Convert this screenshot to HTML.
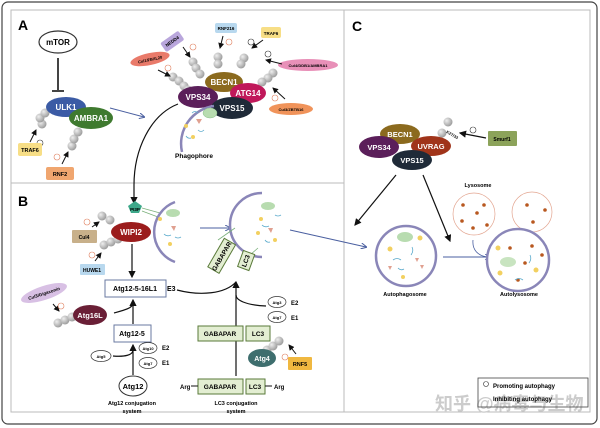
<!DOCTYPE html>
<html><head><meta charset="utf-8"><style>
html,body{margin:0;padding:0;background:#fff}
svg{display:block}
text{font-family:"Liberation Sans","Noto Sans CJK SC",sans-serif;font-weight:bold}
</style></head><body>
<svg width="600" height="428" viewBox="0 0 600 428" xmlns="http://www.w3.org/2000/svg">
<defs>
<marker id="ab" markerWidth="6" markerHeight="6" refX="5" refY="3" orient="auto"><path d="M0,0 L6,3 L0,6 z" fill="#111"/></marker>
<marker id="au" markerWidth="6" markerHeight="6" refX="5" refY="3" orient="auto"><path d="M0,0 L6,3 L0,6" fill="none" stroke="#4a5fa0" stroke-width="1"/></marker>
<radialGradient id="ball" cx="0.35" cy="0.35" r="0.7"><stop offset="0" stop-color="#eee"/><stop offset="1" stop-color="#999"/></radialGradient>
</defs>
<rect x="2" y="2" width="595" height="422" rx="6" fill="#fff" stroke="#444" stroke-width="1.2"/>
<rect x="11" y="10" width="579" height="402" fill="none" stroke="#bbb"/>
<line x1="344" y1="10" x2="344" y2="412" stroke="#bbb"/>
<line x1="11" y1="183" x2="344" y2="183" stroke="#bbb"/>
<text x="18" y="30" font-size="14">A</text>
<text x="18" y="206" font-size="14">B</text>
<text x="352" y="31" font-size="14">C</text>

<!-- Panel A -->
<ellipse cx="58" cy="42" rx="19" ry="11" fill="#fff" stroke="#333" stroke-width="1.2"/>
<text x="58" y="45" font-size="8" text-anchor="middle">mTOR</text>
<line x1="58" y1="58" x2="58" y2="91" stroke="#444" stroke-width="2"/>
<line x1="52" y1="91" x2="64" y2="91" stroke="#444" stroke-width="2"/>
<circle cx="42" cy="124" r="4.5" fill="url(#ball)"/><circle cx="40" cy="118" r="4.5" fill="url(#ball)"/><circle cx="45" cy="113" r="4.5" fill="url(#ball)"/>
<circle cx="72" cy="146" r="4.5" fill="url(#ball)"/><circle cx="74" cy="139" r="4.5" fill="url(#ball)"/><circle cx="78" cy="132" r="4.5" fill="url(#ball)"/>
<ellipse cx="66" cy="107" rx="20" ry="10" fill="#3b5ba5"/>
<text x="66" y="110" font-size="8" fill="#fff" text-anchor="middle">ULK1</text>
<ellipse cx="91" cy="118" rx="22" ry="11" fill="#3f7a2f"/>
<text x="91" y="121" font-size="8" fill="#fff" text-anchor="middle">AMBRA1</text>
<line x1="30" y1="142" x2="36" y2="130" stroke="#111" marker-end="url(#ab)"/>
<line x1="62" y1="164" x2="68" y2="152" stroke="#111" marker-end="url(#ab)"/>
<circle cx="40" cy="143" r="3" fill="none" stroke="#333" stroke-width=".6"/>
<circle cx="57" cy="157" r="3" fill="none" stroke="#e08060" stroke-width=".6"/>
<rect x="18" y="143" width="24" height="13" rx="2" fill="#f7de86"/><text x="30" y="152" font-size="5.5" text-anchor="middle">TRAF6</text>
<rect x="46" y="167" width="28" height="13" rx="2" fill="#f0a66f"/><text x="60" y="176" font-size="5.5" text-anchor="middle">RNF2</text>
<line x1="110" y1="108" x2="144" y2="117" stroke="#4a5fa0" marker-end="url(#au)"/>

<!-- complex A ubiquitins -->
<g fill="url(#ball)">
<circle cx="173" cy="77" r="4.5"/><circle cx="179" cy="81" r="4.5"/><circle cx="184" cy="86" r="4.5"/><circle cx="188" cy="90" r="4.5"/>
<circle cx="193" cy="62" r="4.5"/><circle cx="196" cy="68" r="4.5"/><circle cx="200" cy="74" r="4.5"/>
<circle cx="218" cy="57" r="4.5"/><circle cx="218" cy="64" r="4.5"/>
<circle cx="244" cy="58" r="4.5"/><circle cx="241" cy="64" r="4.5"/>
<circle cx="273" cy="73" r="4.5"/><circle cx="268" cy="78" r="4.5"/><circle cx="262" cy="82" r="4.5"/>
</g>
<ellipse cx="224" cy="82" rx="19" ry="10" fill="#8b6a1e"/><text x="224" y="85" font-size="8" fill="#fff" text-anchor="middle">BECN1</text>
<ellipse cx="248" cy="93" rx="18" ry="10" fill="#c0185a"/><text x="248" y="96" font-size="8" fill="#fff" text-anchor="middle">ATG14</text>
<ellipse cx="198" cy="97" rx="20" ry="11" fill="#5b1f5a"/><text x="198" y="100" font-size="8" fill="#fff" text-anchor="middle">VPS34</text>
<ellipse cx="232" cy="108" rx="21" ry="11" fill="#1f2a38"/><text x="232" y="111" font-size="8" fill="#fff" text-anchor="middle">VPS15</text>
<rect x="161" y="36" width="22" height="11" rx="2" fill="#b9a6dc" transform="rotate(-35 172 41)"/><text x="172" y="43" font-size="4.5" text-anchor="middle" transform="rotate(-35 172 41)">NEDD4</text>
<rect x="215" y="23" width="22" height="10" rx="2" fill="#b8d8ee"/><text x="226" y="30" font-size="4.5" text-anchor="middle">RNF216</text>
<rect x="261" y="27" width="20" height="11" rx="2" fill="#f7de86"/><text x="271" y="35" font-size="4.5" text-anchor="middle">TRAF6</text>
<ellipse cx="150" cy="59" rx="20" ry="6" fill="#e97a6a" transform="rotate(-12 150 59)"/><text x="150" y="61" font-size="4" text-anchor="middle" transform="rotate(-12 150 59)">Cul1/FBXL20</text>
<ellipse cx="308" cy="65" rx="30" ry="6" fill="#e890b8"/><text x="308" y="67" font-size="4" text-anchor="middle">Cul4/DDB1/AMBRA1</text>
<ellipse cx="291" cy="109" rx="22" ry="6" fill="#f0935a"/><text x="291" y="111" font-size="4" text-anchor="middle">Cul3/ZBTB16</text>
<g stroke="#111" marker-end="url(#ab)">
<line x1="158" y1="70" x2="170" y2="76"/><line x1="183" y1="47" x2="190" y2="57"/>
<line x1="223" y1="36" x2="220" y2="48"/><line x1="263" y1="40" x2="252" y2="48"/>
<line x1="282" y1="64" x2="266" y2="60"/><line x1="285" y1="99" x2="273" y2="88"/>
</g>
<g fill="none" stroke-width=".6"><circle cx="168" cy="68" r="3" stroke="#e08060"/><circle cx="193" cy="47" r="3" stroke="#e08060"/><circle cx="229" cy="42" r="3" stroke="#e08060"/><circle cx="251" cy="42" r="3" stroke="#333"/><circle cx="268" cy="54" r="3" stroke="#333"/><circle cx="275" cy="98" r="3" stroke="#e08060"/></g>
<path d="M214,106 A38,38 0 0 0 182,152" fill="none" stroke="#8a86b8" stroke-width="2.5"/>
<ellipse cx="210" cy="113" rx="7" ry="5" fill="#b8dcb0" stroke="#8bc08a" stroke-width=".5"/>
<circle cx="186" cy="126" r="2" fill="#f2d060"/><circle cx="193" cy="137" r="2" fill="#f2d060"/>
<path d="M196,119 l6,0 l-3,5 z" fill="#e0a090"/>
<path d="M192,113 q3,-3 6,0 M198,130 q3,3 6,0 M186,136 q2,3 5,2" stroke="#5aaacc" fill="none" stroke-width=".8"/>
<text x="194" y="158" font-size="6.5" text-anchor="middle">Phagophore</text>
<path d="M178,104 C150,115 134,150 134,185 L134,203" fill="none" stroke="#111" stroke-width="1.2" marker-end="url(#ab)"/>

<!-- Panel B -->
<path d="M128,206 l7,-5 l7,5 l-3,7 l-8,0 z" fill="#3ea88a"/><text x="135" y="211" font-size="4.5" text-anchor="middle">PI3P</text>
<path d="M142,208 L160,213 M142,211 L158,217" stroke="#7ab07a" stroke-width=".8"/>
<circle cx="102" cy="216" r="4.5" fill="url(#ball)"/><circle cx="110" cy="220" r="4.5" fill="url(#ball)"/>
<circle cx="104" cy="245" r="4.5" fill="url(#ball)"/><circle cx="111" cy="242" r="4.5" fill="url(#ball)"/><circle cx="118" cy="239" r="4.5" fill="url(#ball)"/>
<ellipse cx="131" cy="232" rx="20" ry="10" fill="#9b1c1c"/><text x="131" y="235" font-size="8" fill="#fff" text-anchor="middle">WIPI2</text>
<rect x="72" y="230" width="25" height="13" rx="1" fill="#c8b08a"/><text x="84" y="239" font-size="5" text-anchor="middle">Cul4</text>
<rect x="80" y="264" width="25" height="11" rx="1" fill="#b8d8ee"/><text x="92" y="272" font-size="5" text-anchor="middle">HUWE1</text>
<line x1="92" y1="227" x2="99" y2="222" stroke="#111" marker-end="url(#ab)"/>
<line x1="95" y1="261" x2="101" y2="253" stroke="#111" marker-end="url(#ab)"/>
<circle cx="87" cy="222" r="3" fill="none" stroke="#e08060" stroke-width=".6"/><circle cx="92" cy="255" r="3" fill="none" stroke="#e08060" stroke-width=".6"/>
<path d="M175,202 A32,32 0 0 0 175,262" fill="none" stroke="#8a86b8" stroke-width="2.5"/>
<ellipse cx="173" cy="213" rx="7" ry="4" fill="#b8dcb0"/><circle cx="160" cy="219" r="2" fill="#f2d060"/><circle cx="170" cy="244" r="2" fill="#f2d060"/><path d="M171,226 l5,0 l-2,5 z" fill="#e0a090"/>
<path d="M164,234 q3,3 7,1 M175,237 q3,2 6,0" stroke="#5aaacc" fill="none" stroke-width=".8"/>
<line x1="132" y1="244" x2="132" y2="277" stroke="#111" stroke-width="1.2" marker-end="url(#ab)"/>
<rect x="105" y="280" width="61" height="17" fill="#fff" stroke="#6a7aa0"/><text x="135" y="291" font-size="7" text-anchor="middle">Atg12-5-16L1</text>
<text x="167" y="291" font-size="7">E3</text>
<path d="M177,290 C200,296 225,294 236,282" fill="none" stroke="#111" stroke-width="1.2"/>
<ellipse cx="44" cy="293" rx="24" ry="7" fill="#d8c0e4" transform="rotate(-18 44 293)"/><text x="44" y="295" font-size="4.5" text-anchor="middle" transform="rotate(-18 44 293)">Cul3/Gigaxonin</text>
<circle cx="58" cy="323" r="4.5" fill="url(#ball)"/><circle cx="65" cy="320" r="4.5" fill="url(#ball)"/><circle cx="72" cy="317" r="4.5" fill="url(#ball)"/>
<ellipse cx="90" cy="315" rx="17" ry="10" fill="#6a1f36"/><text x="90" y="318" font-size="7.5" fill="#fff" text-anchor="middle">Atg16L</text>
<line x1="53" y1="304" x2="59" y2="311" stroke="#111" marker-end="url(#ab)"/><circle cx="61" cy="306" r="3" fill="none" stroke="#e08060" stroke-width=".6"/>
<path d="M114,313 C125,310 133,308 133,303" fill="none" stroke="#111" stroke-width="1.2"/>
<line x1="133" y1="324" x2="133" y2="300" stroke="#111" stroke-width="1.2" marker-end="url(#ab)"/>
<rect x="114" y="325" width="37" height="17" fill="#fff" stroke="#6a7aa0"/><text x="132" y="336" font-size="7" text-anchor="middle">Atg12-5</text>
<line x1="133" y1="375" x2="133" y2="345" stroke="#111" stroke-width="1.2" marker-end="url(#ab)"/>
<path d="M113,356 C125,357 133,355 133,350" fill="none" stroke="#111" stroke-width="1.2"/>
<ellipse cx="101" cy="356" rx="10" ry="5.5" fill="#fff" stroke="#333" stroke-width=".7"/><text x="101" y="358" font-size="4" text-anchor="middle">Atg5</text>
<ellipse cx="148" cy="348" rx="9" ry="5.5" fill="#fff" stroke="#333" stroke-width=".7"/><text x="148" y="350" font-size="4" text-anchor="middle">Atg10</text>
<ellipse cx="148" cy="363" rx="9" ry="5.5" fill="#fff" stroke="#333" stroke-width=".7"/><text x="148" y="365" font-size="4" text-anchor="middle">Atg7</text>
<text x="162" y="350" font-size="6">E2</text><text x="162" y="365" font-size="6">E1</text>
<ellipse cx="133" cy="386" rx="14" ry="10" fill="#fff" stroke="#333"/><text x="133" y="389" font-size="7.5" text-anchor="middle">Atg12</text>
<text x="132" y="405" font-size="5.5" text-anchor="middle">Atg12 conjugation</text><text x="132" y="413" font-size="5.5" text-anchor="middle">system</text>
<line x1="200" y1="228" x2="230" y2="228" stroke="#4a5fa0" marker-end="url(#au)"/>
<path d="M262,193 A32,32 0 0 0 262,257" fill="none" stroke="#8a86b8" stroke-width="2.5"/>
<ellipse cx="268" cy="206" rx="7" ry="4" fill="#b8dcb0"/><circle cx="261" cy="219" r="2" fill="#f2d060"/><circle cx="258" cy="233" r="2" fill="#f2d060"/><circle cx="275" cy="240" r="2" fill="#f2d060"/><path d="M268,228 l5,0 l-2,5 z" fill="#e0a090"/>
<path d="M262,225 q3,3 7,1 M275,215 q3,2 6,0 M265,240 q2,3 5,2" stroke="#5aaacc" fill="none" stroke-width=".8"/>
<path d="M218,240 L235,228 M250,255 L258,248" stroke="#7ab07a" stroke-width=".8"/>
<rect x="205" y="250" width="33" height="13" fill="#e3eed2" stroke="#5a7a3a" transform="rotate(-60 221 256)"/><text x="221" y="259" font-size="6.5" text-anchor="middle" transform="rotate(-60 221 256)">GABAPAR</text>
<rect x="238" y="255" width="17" height="12" fill="#e3eed2" stroke="#5a7a3a" transform="rotate(-70 246 261)"/><text x="246" y="263" font-size="6.5" text-anchor="middle" transform="rotate(-70 246 261)">LC3</text>
<line x1="236" y1="376" x2="236" y2="282" stroke="#111" stroke-width="1.2" marker-end="url(#ab)"/>
<path d="M266,306 C245,305 236,300 236,295" fill="none" stroke="#111" stroke-width="1.2"/>
<ellipse cx="277" cy="302" rx="9" ry="5.5" fill="#fff" stroke="#333" stroke-width=".7"/><text x="277" y="304" font-size="4" text-anchor="middle">Atg3</text>
<ellipse cx="277" cy="317" rx="9" ry="5.5" fill="#fff" stroke="#333" stroke-width=".7"/><text x="277" y="319" font-size="4" text-anchor="middle">Atg7</text>
<text x="291" y="305" font-size="6">E2</text><text x="291" y="320" font-size="6">E1</text>
<rect x="198" y="326" width="45" height="15" fill="#e3eed2" stroke="#5a7a3a"/><text x="220" y="336" font-size="6.5" text-anchor="middle">GABAPAR</text>
<rect x="246" y="326" width="24" height="15" fill="#e3eed2" stroke="#5a7a3a"/><text x="258" y="336" font-size="6.5" text-anchor="middle">LC3</text>
<circle cx="267" cy="350" r="4.5" fill="url(#ball)"/><circle cx="273" cy="346" r="4.5" fill="url(#ball)"/><circle cx="279" cy="341" r="4.5" fill="url(#ball)"/>
<ellipse cx="262" cy="358" rx="14" ry="9" fill="#3e6e6e"/><text x="262" y="361" font-size="7" fill="#fff" text-anchor="middle">Atg4</text>
<line x1="296" y1="354" x2="289" y2="345" stroke="#111" marker-end="url(#ab)"/><circle cx="285" cy="357" r="3" fill="none" stroke="#e08060" stroke-width=".6"/>
<rect x="288" y="357" width="24" height="13" rx="1" fill="#f0b840"/><text x="300" y="366" font-size="5.5" text-anchor="middle">RNF5</text>
<rect x="198" y="379" width="45" height="15" fill="#e3eed2" stroke="#5a7a3a"/><text x="220" y="389" font-size="6.5" text-anchor="middle">GABAPAR</text>
<rect x="246" y="379" width="19" height="15" fill="#e3eed2" stroke="#5a7a3a"/><text x="255" y="389" font-size="6.5" text-anchor="middle">LC3</text>
<text x="180" y="389" font-size="6">Arg</text><line x1="191" y1="386" x2="198" y2="386" stroke="#111"/>
<line x1="265" y1="386" x2="272" y2="386" stroke="#111"/><text x="274" y="389" font-size="6">Arg</text>
<text x="236" y="405" font-size="5.5" text-anchor="middle">LC3 conjugation</text><text x="236" y="413" font-size="5.5" text-anchor="middle">system</text>
<line x1="290" y1="230" x2="366" y2="247" stroke="#4a5fa0" marker-end="url(#au)"/>

<!-- Panel C -->
<circle cx="448" cy="122" r="4.5" fill="url(#ball)"/><circle cx="442" cy="133" r="4.5" fill="url(#ball)"/>
<text x="447" y="133" font-size="4" transform="rotate(30 447 131)">K27/33</text>
<ellipse cx="400" cy="134" rx="20" ry="10" fill="#8b6a1e"/><text x="400" y="137" font-size="7.5" fill="#fff" text-anchor="middle">BECN1</text>
<ellipse cx="431" cy="146" rx="20" ry="10" fill="#a0341a"/><text x="431" y="149" font-size="7.5" fill="#fff" text-anchor="middle">UVRAG</text>
<ellipse cx="379" cy="147" rx="20" ry="11" fill="#5b1f5a"/><text x="379" y="150" font-size="7.5" fill="#fff" text-anchor="middle">VPS34</text>
<ellipse cx="412" cy="160" rx="20" ry="10" fill="#1f2a38"/><text x="412" y="163" font-size="7.5" fill="#fff" text-anchor="middle">VPS15</text>
<line x1="486" y1="138" x2="460" y2="133" stroke="#111" stroke-width="1.2" marker-end="url(#ab)"/>
<circle cx="473" cy="130" r="3" fill="none" stroke="#333" stroke-width=".6"/>
<rect x="488" y="131" width="29" height="15" rx="1" fill="#8ca35a"/><text x="502" y="141" font-size="5" text-anchor="middle">Smurf1</text>
<line x1="396" y1="175" x2="355" y2="225" stroke="#111" stroke-width="1.2" marker-end="url(#ab)"/>
<line x1="423" y1="175" x2="450" y2="241" stroke="#111" stroke-width="1.2" marker-end="url(#ab)"/>
<text x="478" y="187" font-size="5.5" text-anchor="middle">Lysosome</text>
<circle cx="474" cy="214" r="21" fill="#fff" stroke="#e3a590" stroke-width=".7"/>
<g fill="#b85820"><circle cx="463" cy="205" r="1.8"/><circle cx="484" cy="205" r="1.8"/><circle cx="477" cy="213" r="1.8"/><circle cx="462" cy="221" r="1.8"/><circle cx="487" cy="225" r="1.8"/><circle cx="473" cy="228" r="1.8"/></g>
<circle cx="406" cy="256" r="30" fill="#fff" stroke="#8a86b8" stroke-width="2.5"/>
<ellipse cx="405" cy="237" rx="8" ry="5" fill="#b8dcb0"/><circle cx="420" cy="238" r="2.5" fill="#f2d060"/><circle cx="390" cy="249" r="2.5" fill="#f2d060"/><circle cx="403" cy="277" r="2" fill="#f2d060"/>
<path d="M393,260 q4,-3 8,0 M412,247 q2,4 -1,8 M398,268 q3,3 6,1" stroke="#5aaacc" fill="none" stroke-width=".8"/>
<path d="M415,258 l4,0 l-2,4 z M420,265 l4,0 l-2,4 z M388,266 l4,0 l-2,4 z" fill="#e0a090"/>
<text x="405" y="296" font-size="5.5" text-anchor="middle">Autophagosome</text>
<line x1="443" y1="257" x2="490" y2="257" stroke="#4a5fa0" marker-end="url(#au)"/>
<path d="M473,240 C472,250 478,256 488,257" fill="none" stroke="#4a5fa0" stroke-width=".8"/>
<circle cx="532" cy="212" r="20" fill="#fff" stroke="#e3a590" stroke-width=".7"/>
<circle cx="518" cy="260" r="31" fill="#fff" stroke="#8a86b8" stroke-width="2.5"/>
<g fill="#b85820"><circle cx="527" cy="205" r="1.8"/><circle cx="545" cy="210" r="1.8"/><circle cx="533" cy="222" r="1.8"/><circle cx="532" cy="246" r="1.8"/><circle cx="525" cy="263" r="1.8"/><circle cx="510" cy="248" r="1.8"/><circle cx="518" cy="280" r="1.8"/><circle cx="542" cy="255" r="1.8"/></g>
<ellipse cx="508" cy="262" rx="8" ry="5" fill="#c8e4c0"/><circle cx="498" cy="248" r="2.5" fill="#f2d060"/><circle cx="500" cy="273" r="2.5" fill="#f2d060"/><circle cx="536" cy="270" r="2.5" fill="#f2d060"/>
<path d="M515,280 q4,-3 8,0 M530,255 q2,4 -1,8" stroke="#5aaacc" fill="none" stroke-width=".8"/>
<text x="519" y="296" font-size="5.5" text-anchor="middle">Autolysosome</text>
<text x="435" y="410" font-size="18" fill="#ccc" font-weight="normal">知乎 @病毒与生物</text>
<rect x="478" y="378" width="110" height="29" fill="none" stroke="#444" stroke-width=".8"/>
<circle cx="486" cy="384" r="2.5" fill="none" stroke="#333" stroke-width=".6"/>
<text x="493" y="388" font-size="6">Promoting autophagy</text>
<text x="493" y="401" font-size="6">Inhibiting autophagy</text>
</svg>
</body></html>
